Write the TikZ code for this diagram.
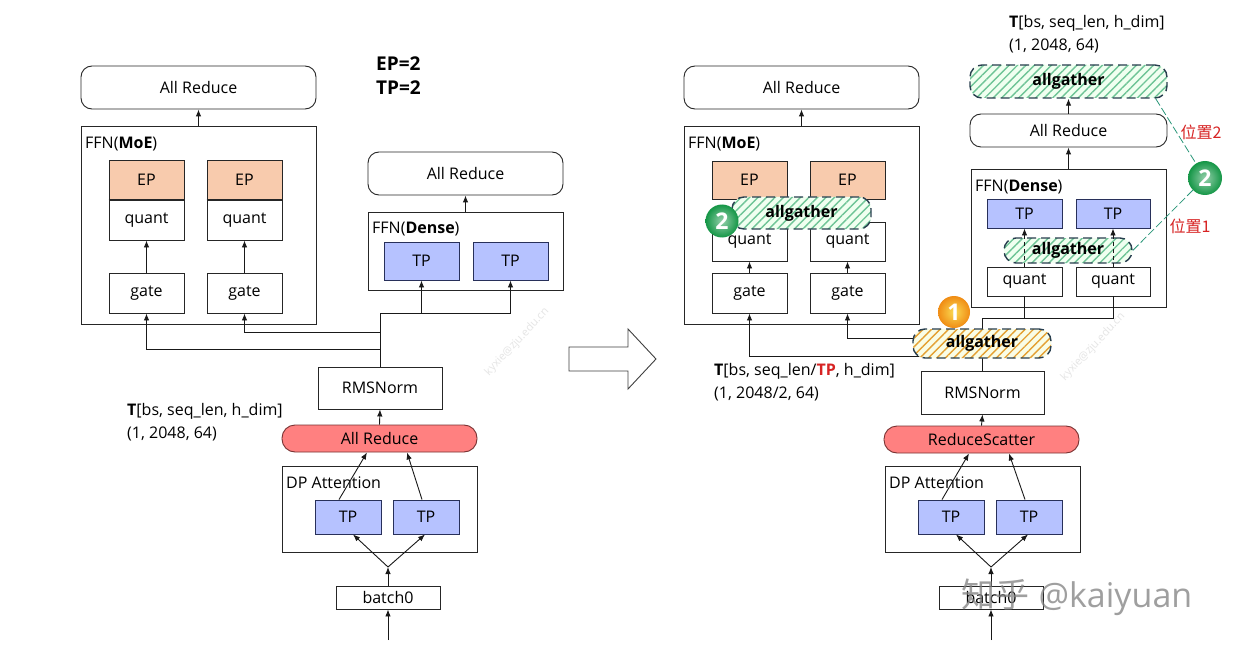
\documentclass[tikz,border=0pt]{standalone}
\usepackage{fontspec}
\setmainfont{Open Sans}
\newfontfamily\cjk{Noto Sans CJK SC}
\usetikzlibrary{positioning, arrows.meta, patterns.meta, calc}
\definecolor{epfill}{RGB}{248,203,173}
\definecolor{tpfill}{RGB}{182,194,255}
\definecolor{tpline}{RGB}{40,48,90}
\definecolor{redfill}{RGB}{255,128,128}
\definecolor{redline}{RGB}{120,50,50}
\definecolor{hatchgreen}{RGB}{110,196,150}
\definecolor{hatchorange}{RGB}{228,160,50}
\definecolor{gatherline}{RGB}{40,62,78}
\definecolor{linkgreen}{RGB}{40,150,120}
\definecolor{markred}{RGB}{215,35,35}
\definecolor{ballgreen}{RGB}{20,150,70}
\definecolor{ballorange}{RGB}{240,140,20}
\tikzset{
  box/.style={
    draw=black!85,
    line width=0.9pt,
    rectangle,
    fill=white,
    inner sep=0pt,
    align=center
  },
  frame/.style={box, fill=none},
  reduce/.style={box, rounded corners=11pt},
  redpill/.style={box, rounded corners=13pt, fill=redfill, draw=redline},
  epbox/.style={box, fill=epfill, minimum width=75pt},
  tpbox/.style={box, fill=tpfill, draw=tpline},
  gather/.style={
    draw=gatherline,
    line width=1.4pt,
    dash pattern=on 9pt off 5pt,
    rounded corners=12pt,
    inner sep=0pt,
    font=\bfseries\fontsize{16}{19}\selectfont,
    preaction={fill=green!6},
    pattern={Lines[angle=45, distance=6pt, line width=1.4pt]},
    pattern color=hatchgreen
  },
  gatherorange/.style={
    gather,
    preaction={fill=yellow!12, fill opacity=0.6},
    pattern color=hatchorange
  },
  ball/.style={
    circle,
    shading=radial,
    inner sep=0pt,
    text=white,
    font=\bfseries\fontsize{23}{23}\selectfont
  },
  greenball/.style={ball, inner color=ballgreen!45!white, outer color=ballgreen},
  orangeball/.style={ball, inner color=ballorange!45!yellow!70!white, outer color=ballorange},
  flow/.style={
    draw=black!90,
    line width=0.9pt,
    -{Latex[length=7pt, width=5.5pt]}
  },
  wire/.style={draw=black!90, line width=0.9pt},
  link/.style={
    draw=linkgreen,
    line width=0.8pt,
    dash pattern=on 8pt off 3pt
  },
  tag/.style={anchor=west, inner sep=0pt},
  faint/.style={text=black!10, font=\fontsize{11}{11}\selectfont, rotate=47}
}

\begin{document}
\begin{tikzpicture}[x=1pt, y=-1pt, font=\fontsize{16}{19}\selectfont]
  \fill[white] (0,0) rectangle (1235,650);
  \useasboundingbox (0,0) rectangle (1235,650);

  % left: before
  \node[reduce, minimum width=235pt, minimum height=43pt] (ar1) at (198.5,87.5) {All Reduce};
  \node[frame, minimum width=235pt, minimum height=198pt] (moe) at (198.5,225) {};
  \node[tag] (moelbl) at (85,144) {FFN(\textbf{MoE})};
  \node[epbox, minimum height=40pt] (ep1) at (146.5,180) {EP};
  \node[epbox, minimum height=40pt] (ep2) at (244.5,180) {EP};
  \node[box, minimum width=75pt, minimum height=40pt] (q1) at (146.5,220) {quant};
  \node[box, minimum width=75pt, minimum height=40pt] (q2) at (244.5,220) {quant};
  \draw[line width=2pt, black!85] (q1.north west) -- (q1.north east);
  \draw[line width=2pt, black!85] (q2.north west) -- (q2.north east);
  \node[box, minimum width=75pt, minimum height=40pt] (g1) at (146.5,293) {gate};
  \node[box, minimum width=75pt, minimum height=40pt] (g2) at (244.5,293) {gate};

  \node[tag, font=\bfseries\fontsize{19}{22}\selectfont] (epn) at (376,64) {EP=2};
  \node[tag, font=\bfseries\fontsize{19}{22}\selectfont] (tpn) at (376,88) {TP=2};

  \node[reduce, minimum width=195pt, minimum height=43pt] (ar2) at (465.5,173.5) {All Reduce};
  \node[frame, minimum width=195pt, minimum height=78pt] (dense) at (465.5,251) {};
  \node[tag] (denselbl) at (372,229) {FFN(\textbf{Dense})};
  \node[tpbox, minimum width=75pt, minimum height=38pt] (dtp1) at (421.5,261) {TP};
  \node[tpbox, minimum width=75pt, minimum height=38pt] (dtp2) at (510.5,261) {TP};

  \node[box, minimum width=124pt, minimum height=42pt] (rms) at (380,388) {RMSNorm};
  \node[redpill, minimum width=195pt, minimum height=27pt] (red) at (379.5,438.5) {All Reduce};
  \node[tag] (tl1) at (127,411) {\textbf{T}[bs, seq\_len, h\_dim]};
  \node[tag] (tl2) at (127,434) {(1, 2048, 64)};

  \node[frame, minimum width=195pt, minimum height=86pt] (dp) at (379.5,509) {};
  \node[tag] (dplbl) at (286,483) {DP Attention};
  \node[tpbox, minimum width=66pt, minimum height=34pt] (atp1) at (348,517) {TP};
  \node[tpbox, minimum width=66pt, minimum height=34pt] (atp2) at (426,517) {TP};
  \node[box, minimum width=104pt, minimum height=23pt] (batch) at (388,597.5) {batch0};
  \coordinate (split) at (388,567);
  \coordinate (in) at (388,640);
  \coordinate (fork) at (380,313);
  \coordinate (b2) at (380,332);
  \coordinate (b1) at (380,349);

  \draw[flow] (moe.north) -- (ar1.south);
  \draw[flow] (g1) -- (q1);
  \draw[flow] (g2) -- (q2);
  \draw[flow] (dense.north) -- (ar2.south);
  \draw[wire] (rms.north) -- (fork);
  \draw[flow] (fork) -| (dtp2.south);
  \draw[flow] (dtp1.south |- fork) -- (dtp1.south);
  \draw[flow] (b2) -| (g2.south);
  \draw[flow] (b1) -| (g1.south);
  \draw[flow] (red.north) -- (rms.south);
  \draw[flow] ($(atp1.north)+(-9,0)$) -- ($(red.south)+(-12.5,0)$);
  \draw[flow] ($(atp2.north)+(-4,0)$) -- ($(red.south)+(27.5,0)$);
  \draw[flow] (split) -- ($(atp1.south)+(5,0)$);
  \draw[flow] (split) -- ($(atp2.south)+(-1,0)$);
  \draw[flow] (batch.north) -- (split);
  \draw[flow] (in) -- (batch.south);

  % hollow arrow
  \draw[line width=0.9pt, black!75] (569,347) -- (628,347) -- (628,329) -- (656,359)
    -- (628,389) -- (628,371) -- (569,371) -- cycle;

  % right: after
  \node[reduce, minimum width=235pt, minimum height=43pt] (ar3) at (801.5,87.5) {All Reduce};
  \node[frame, minimum width=235pt, minimum height=198pt] (moe2) at (801.5,225) {};
  \node[tag] (moe2lbl) at (688,144) {FFN(\textbf{MoE})};
  \node[epbox, minimum height=38pt] (ep3) at (749.5,180) {EP};
  \node[epbox, minimum height=38pt] (ep4) at (847.5,180) {EP};
  \node[box, minimum width=75pt, minimum height=39pt] (q3) at (749.5,241.5) {quant};
  \node[box, minimum width=75pt, minimum height=39pt] (q4) at (847.5,241.5) {quant};
  \node[box, minimum width=75pt, minimum height=40pt] (g3) at (749.5,293) {gate};
  \node[box, minimum width=75pt, minimum height=40pt] (g4) at (847.5,293) {gate};
  \node[gather, minimum width=139pt, minimum height=32pt] (agmoe) at (801.5,213) {allgather};
  \node[greenball, minimum size=33pt] (ball2a) at (722,221) {2};

  \node[tag] (tt1) at (1009,23) {\textbf{T}[bs, seq\_len, h\_dim]};
  \node[tag] (tt2) at (1009,46) {(1, 2048, 64)};
  \node[gather, minimum width=197pt, minimum height=33pt] (agtop) at (1068.5,81.5) {allgather};
  \node[reduce, minimum width=197pt, minimum height=33pt] (ar4) at (1068.5,130.5) {All Reduce};
  \node[frame, minimum width=195pt, minimum height=138pt] (dense2) at (1068.5,238) {};
  \node[tag] (dense2lbl) at (975,187) {FFN(\textbf{Dense})};
  \node[tpbox, minimum width=75pt, minimum height=29pt] (dtp3) at (1024.5,213.5) {TP};
  \node[tpbox, minimum width=74pt, minimum height=29pt] (dtp4) at (1113,213.5) {TP};
  \node[gather, minimum width=128pt, minimum height=25pt] (agdense) at (1068,250.5) {allgather};
  \node[box, minimum width=75pt, minimum height=29pt] (dq1) at (1024.5,281.5) {quant};
  \node[box, minimum width=74pt, minimum height=29pt] (dq2) at (1113,281.5) {quant};
  \node[text=markred] (pos2) at (1201,132) {\cjk 位置2};
  \node[text=markred] (pos1) at (1190,226) {\cjk 位置1};
  \node[greenball, minimum size=34pt] (ball2b) at (1205,178) {2};

  \node[box, minimum width=123pt, minimum height=43pt] (rms2) at (982.5,392.5) {RMSNorm};
  \node[redpill, minimum width=195pt, minimum height=27pt] (rs) at (981.5,439.5) {ReduceScatter};
  \node[tag] (tm1) at (714,371) {\textbf{T}[bs, seq\_len/\textbf{\color{markred}TP}, h\_dim]};
  \node[tag] (tm2) at (714,394) {(1, 2048/2, 64)};

  \node[frame, minimum width=195pt, minimum height=86pt] (dp2) at (982.5,509) {};
  \node[tag] (dp2lbl) at (889,483) {DP Attention};
  \node[tpbox, minimum width=66pt, minimum height=34pt] (atp3) at (951,517) {TP};
  \node[tpbox, minimum width=66pt, minimum height=34pt] (atp4) at (1029,517) {TP};
  \node[box, minimum width=104pt, minimum height=23pt] (batch2) at (991,597.5) {batch0};
  \coordinate (split2) at (991,567);
  \coordinate (in2) at (991,640);
  \coordinate (fork2) at (982.5,318);
  \coordinate (c2) at (982.5,338);
  \coordinate (c1) at (982.5,356);

  \draw[flow] (moe2.north) -- (ar3.south);
  \draw[flow] (g3) -- (q3);
  \draw[flow] (g4) -- (q4);
  \draw[flow] (dense2.north) -- (ar4.south);
  \draw[flow] (ar4.north) -- (agtop.south);
  \draw[flow, dash pattern=on 4pt off 3pt] (dq1) -- (dtp3);
  \draw[flow, dash pattern=on 4pt off 3pt] (dq2) -- (dtp4);
  \draw[wire] (rms2.north) -- (fork2);
  \draw[wire] (fork2) -| (dq2.south);
  \draw[wire] (dq1.south |- fork2) -- (dq1.south);
  \draw[flow] (c2) -| (g4.south);
  \draw[flow] (c1) -| (g3.south);
  \node[gatherorange, minimum width=138pt, minimum height=29pt] (agone) at (982,343.5) {allgather};
  \node[orangeball, minimum size=32pt] (ball1) at (954,312) {1};
  \draw[flow] (rs.north) -- (rms2.south);
  \draw[flow] ($(atp3.north)+(-9,0)$) -- ($(rs.south)+(-12.5,0)$);
  \draw[flow] ($(atp4.north)+(-4,0)$) -- ($(rs.south)+(27.5,0)$);
  \draw[flow] (split2) -- ($(atp3.south)+(5,0)$);
  \draw[flow] (split2) -- ($(atp4.south)+(-1,0)$);
  \draw[flow] (batch2.north) -- (split2);
  \draw[flow] (in2) -- (batch2.south);
  \draw[link] ($(agtop.south east)+(-12,0)$) -- (ball2b);
  \draw[link] (ball2b) -- (agdense.east);

  % watermarks
  \node[faint] (wm1) at (517,342) {kyxie@zju.edu.cn};
  \node[faint] (wm2) at (1093,347) {kyxie@zju.edu.cn};
  \node[text=black!50, opacity=0.75, font=\fontsize{34}{34}\selectfont] (wm) at (1077,597)
    {{\cjk 知乎} @kaiyuan};
\end{tikzpicture}
\end{document}
